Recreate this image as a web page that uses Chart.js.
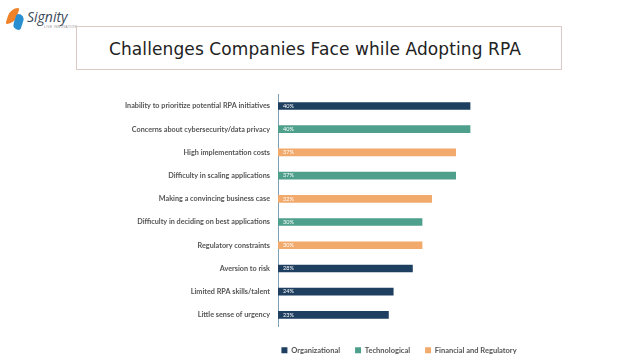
<!DOCTYPE html>
<html>
<head>
<meta charset="utf-8">
<script src="https://cdn.jsdelivr.net/npm/chart.js@4/dist/chart.umd.min.js"></script>
<style>
  body { margin: 0; width: 638px; height: 359px; background: #fff; overflow: hidden; position: relative; font-family: Lato, sans-serif; }
  #logo { position: absolute; left: 4px; top: 6px; width: 80px; height: 30px; }
  #logo .a { position: absolute; left: 4px; top: 2px; width: 9px; height: 16px; background: #f0822a; border-radius: 9px 2px 9px 2px; transform: skewX(-18deg); }
  #logo .b { position: absolute; left: 10px; top: 8px; width: 9px; height: 16px; background: #2a8fd0; border-radius: 2px 9px 2px 9px; transform: skewX(-18deg); }
  #logo .t { position: absolute; left: 23px; top: 1px; font: italic 14px "Open Sans", sans-serif; color: #3b4a5a; }
  #logo .s { position: absolute; left: 40px; top: 19px; font: 3px sans-serif; color: #888; letter-spacing: 0.5px; }
  #titlebox { position: absolute; left: 76px; top: 26px; width: 486px; height: 44px; border: 1px solid #dccbc4; box-sizing: border-box; }
  #title { position: absolute; left: 0; right: 8px; top: 12px; text-align: center; font: 17px "DejaVu Sans", sans-serif; color: #222; letter-spacing: 0.1px; }
  #wrap { position: absolute; left: 0; top: 82px; width: 798px; height: 282px; }
</style>
</head>
<body>
<div id="logo"><div class="a"></div><div class="b"></div><div class="t">Signity</div><div class="s">LIVE INNOVATION</div></div>
<div id="titlebox"><div id="title">Challenges Companies Face while Adopting RPA</div></div>
<div id="wrap"><canvas id="chart"></canvas></div>
<script>
// Categories, top to bottom
const challenges = [
  "Inability to prioritize potential RPA initiatives",
  "Concerns about cybersecurity/data privacy",
  "High implementation costs",
  "Difficulty in scaling applications",
  "Making a convincing business case",
  "Difficulty in deciding on best applications",
  "Regulatory constraints",
  "Aversion to risk",
  "Limited RPA skills/talent",
  "Little sense of urgency"
];
// Share of companies (%) per series; null where a challenge belongs to another group
const organizational = [40, null, null, null, null, null, null, 28, 24, 23];
const technological = [null, 40, null, 37, null, 30, null, null, null, null];
const financialRegulatory = [null, null, 37, null, 32, null, 30, null, null, null];
const seriesNames = ["Organizational", "Technological", "Financial and Regulatory"];

const colors = ["#1e3f5f", "#4e9f8b", "#f2a96c"];

// canvas is wider than the page so the legend sits under the bars like the original;
// x range stretched to keep 40% ending where it does in the picture
const xMax = 108.3;

// white percentage text inside each bar
const valueLabels = {
  id: "valueLabels",
  afterDatasetsDraw(chart) {
    const ctx = chart.ctx;
    ctx.save();
    ctx.fillStyle = "#fff";
    ctx.font = "5.5px Lato";
    ctx.textBaseline = "middle";
    chart.data.datasets.forEach((ds, i) => {
      chart.getDatasetMeta(i).data.forEach((bar, j) => {
        if (ds.data[j] == null) return;
        ctx.fillText(ds.data[j] + "%", bar.base + 5, bar.y);
      });
    });
    ctx.restore();
  }
};

new Chart(document.getElementById("chart"), {
  type: "bar",
  data: {
    labels: challenges,
    datasets: [organizational, technological, financialRegulatory].map((d, i) => ({
      label: seriesNames[i],
      data: d,
      backgroundColor: colors[i],
      barThickness: 7
    }))
  },
  options: {
    indexAxis: "y",
    responsive: true,
    maintainAspectRatio: false,
    animation: false,
    layout: { padding: 0 },
    scales: {
      x: {
        stacked: true, min: 0, max: xMax,
        grid: { display: false, drawTicks: false },
        border: { display: false },
        ticks: { display: false },
        afterFit(scale) { scale.height = 5; }
      },
      y: {
        stacked: true,
        grid: { display: false, drawTicks: false },
        border: { color: "#7f9fb5", width: 1 },
        ticks: { color: "#555", font: { family: "Lato", size: 7.25, weight: "bold" }, padding: 8 },
        afterFit(scale) { scale.width = 278; }
      }
    },
    plugins: {
      legend: {
        position: "bottom",
        labels: { boxWidth: 6, boxHeight: 6, color: "#555", font: { family: "Lato", size: 7.5, weight: "bold" }, padding: 15 }
      },
      tooltip: { enabled: false }
    }
  },
  plugins: [valueLabels]
});
</script>
</body>
</html>
